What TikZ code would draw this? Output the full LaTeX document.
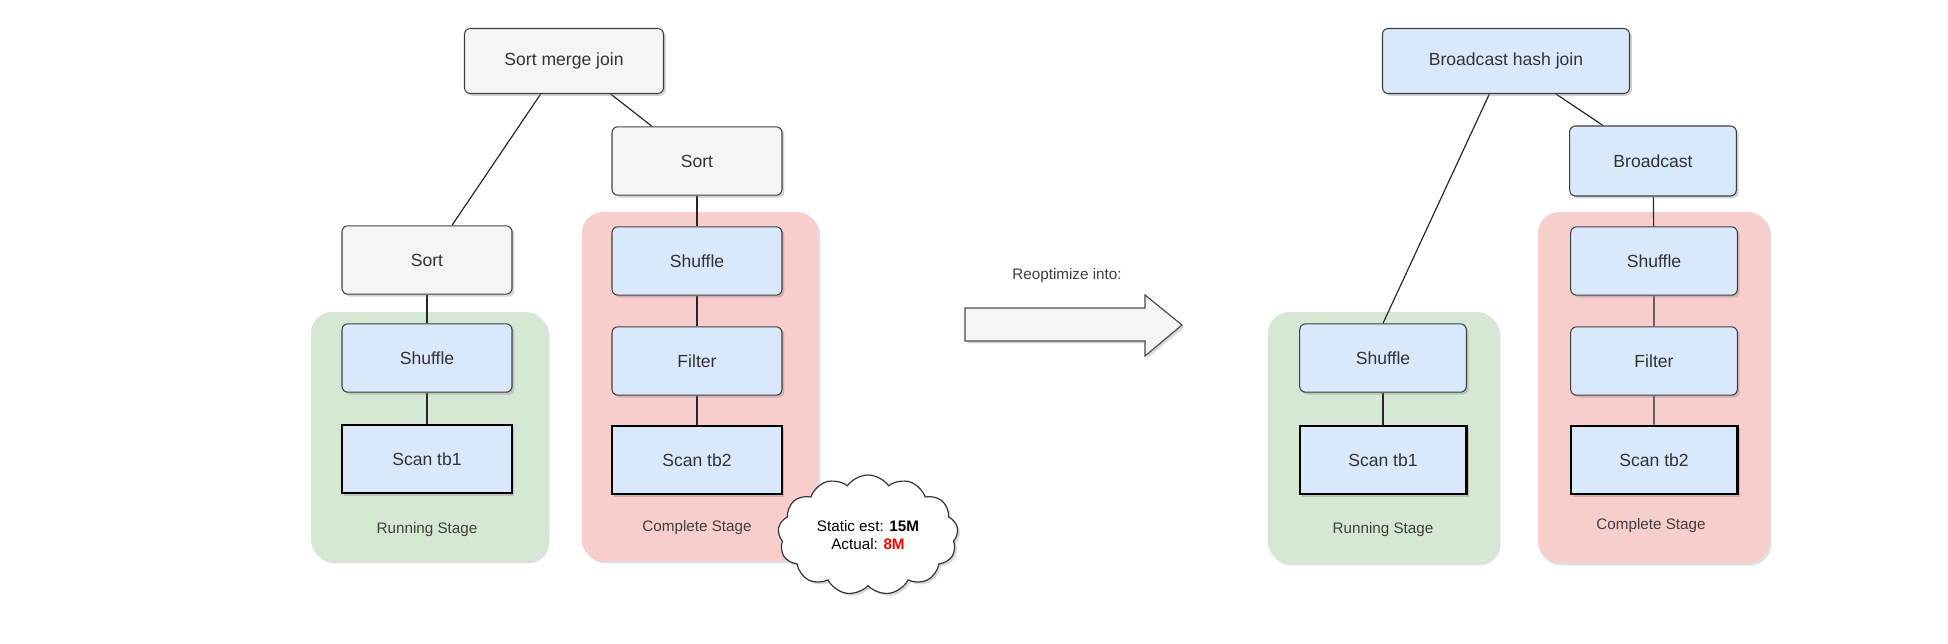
\documentclass[tikz,border=0pt]{standalone}
\usepackage{fontspec}
\setmainfont{Liberation Sans}
\usetikzlibrary{shapes.symbols,shadows}
\pgfdeclarelayer{back}
\pgfdeclarelayer{mid}
\pgfsetlayers{back,mid,main}
\definecolor{gfill}{HTML}{F5F5F5}
\definecolor{bfill}{HTML}{DAE8FC}
\definecolor{sgreen}{HTML}{D5E8D4}
\definecolor{sred}{HTML}{F8CECC}
\definecolor{txt}{HTML}{333333}
\begin{document}
\begin{tikzpicture}[x=0.03cm,y=-0.03cm,
  box/.style={draw=black!75,line width=0.9pt,rounded corners=5pt,minimum width=5.1cm,minimum height=2.05cm,
    font=\fontsize{15}{18}\selectfont,text=txt,drop shadow={shadow xshift=2pt,shadow yshift=-2pt,opacity=0.35}},
  gbox/.style={box,fill=gfill},
  bbox/.style={box,fill=bfill},
  scan/.style={box,fill=bfill,rounded corners=0pt,draw=black,line width=2pt},
  stage/.style={rounded corners=18pt,drop shadow={shadow xshift=2pt,shadow yshift=-2pt,opacity=0.25}},
  slabel/.style={font=\fontsize{13}{16}\selectfont,text=black!75},
  link/.style={draw=black!85,line width=1pt}]
\useasboundingbox (0,0) rectangle (1948,644);
\begin{pgfonlayer}{back}
\path[stage,fill=sgreen] (311,312) rectangle (547,561);
\path[stage,fill=sred] (582,212) rectangle (818,561);
\path[stage,fill=sgreen] (1268,312) rectangle (1498,563);
\path[stage,fill=sred] (1538,212) rectangle (1769,563);
\end{pgfonlayer}
\node[slabel] (rs1) at (427,530) {Running Stage};
\node[slabel] (cs1) at (697,528) {Complete Stage};
\node[slabel] (rs2) at (1383,530) {Running Stage};
\node[slabel] (cs2) at (1651,526) {Complete Stage};
\node[gbox,minimum width=5.97cm,minimum height=1.95cm] (smj) at (564,61) {Sort merge join};
\node[gbox] (sortr) at (697,161) {Sort};
\node[gbox] (sortl) at (427,260) {Sort};
\node[bbox] (shl) at (427,358) {Shuffle};
\node[scan] (scl) at (427,459) {Scan tb1};
\node[bbox] (shr) at (697,261) {Shuffle};
\node[bbox] (fir) at (697,361) {Filter};
\node[scan] (scr) at (697,460) {Scan tb2};
\node[bbox,minimum width=7.41cm,minimum height=1.95cm] (bhj) at (1506,61) {Broadcast hash join};
\node[bbox,minimum width=5.0cm,minimum height=2.1cm] (bc) at (1653,161) {Broadcast};
\node[bbox,minimum width=5.0cm] (sh2) at (1383,358) {Shuffle};
\node[scan,minimum width=5.0cm] (sc2) at (1383,460) {Scan tb1};
\node[bbox,minimum width=5.0cm] (sh3) at (1654,261) {Shuffle};
\node[bbox,minimum width=5.0cm] (fi3) at (1654,361) {Filter};
\node[scan,minimum width=5.0cm] (sc3) at (1654,460) {Scan tb2};
\begin{pgfonlayer}{mid}
\draw[link] ([xshift=-0.7cm]smj.south) -- ([xshift=0.75cm]sortl.north);
\draw[link] ([xshift=1.4cm]smj.south) -- ([xshift=-1.35cm]sortr.north);
\draw[link] (sortl) -- (shl) -- (scl);
\draw[link] (sortr) -- (shr) -- (fir) -- (scr);
\draw[link] ([xshift=-0.5cm]bhj.south) -- (sh2.north);
\draw[link] ([xshift=1.5cm]bhj.south) -- ([xshift=-1.5cm]bc.north);
\draw[link] (sh2) -- (sc2);
\draw[link] (bc) -- (sh3) -- (fi3) -- (sc3);
\end{pgfonlayer}
\node[cloud,draw=black!80,line width=1pt,fill=white,cloud puffs=13,cloud puff arc=110,aspect=1.6,
  minimum width=5.4cm,minimum height=3.6cm,inner sep=0pt,align=center,font=\fontsize{13}{16}\selectfont,
  drop shadow={shadow xshift=2pt,shadow yshift=-2pt,opacity=0.3}] (cl) at (868,535)
  {Static est: \textbf{15M}\\Actual: \textcolor{red}{\textbf{8M}}};
\draw[black!70,line width=1pt,fill=gfill,drop shadow={shadow xshift=2pt,shadow yshift=-2pt,opacity=0.3}]
  (965,308) -- (1145,308) -- (1145,295) -- (1182,325) -- (1145,356) -- (1145,341) -- (965,341) -- cycle;
\node[font=\fontsize{13}{16}\selectfont,text=black!75] (reo) at (1067,276) {Reoptimize into:};
\end{tikzpicture}
\end{document}
